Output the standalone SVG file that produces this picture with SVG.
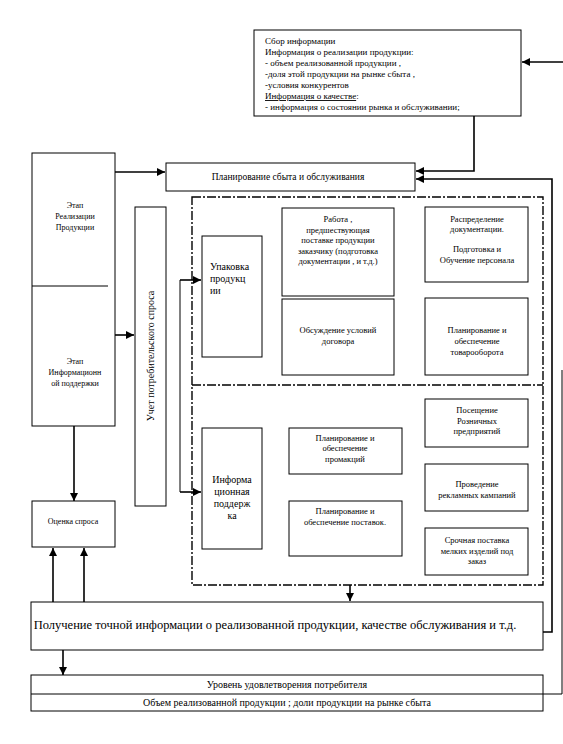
<svg xmlns="http://www.w3.org/2000/svg" width="563" height="744" viewBox="0 0 563 744">
<style>
.b{fill:#fff;stroke:#000;stroke-width:1}
.t{font-family:"Liberation Serif","Times New Roman",serif;font-size:8.5px;fill:#000}
.c{text-anchor:middle}
.s{font-size:8px}
.m{font-size:10px}
.p{font-size:9.5px}
.k{font-size:9px}
.l{font-size:12.5px}
.ln{fill:none;stroke:#000;stroke-width:1}
.ar{fill:none;stroke:#000;stroke-width:1.6;marker-end:url(#ah)}
.dd{fill:none;stroke:#000;stroke-width:1.4;stroke-dasharray:9,2,2,2}
</style>
<defs>
<marker id="ah" markerUnits="userSpaceOnUse" markerWidth="9" markerHeight="8" refX="8" refY="4" orient="auto">
<path d="M0,0 L8,4 L0,8 z" fill="#000"/>
</marker>
</defs>
<rect width="563" height="744" fill="#fff"/>

<g id="connectors">
<path class="ar" d="M563,62 H522"/>
<path class="ar" d="M474,116 V171 H416"/>
<path class="ar" d="M543,632 H552 V179 H416"/>
<path class="ln" d="M543,694 H562 V370"/>
<path class="ar" d="M115,172 H165"/>
<path class="ar" d="M115,335 H134"/>
<path class="ar" d="M74,426 V501"/>
<path class="ar" d="M53,602 V548"/>
<path class="ar" d="M84,602 V548"/>
<path class="ln" d="M180,280 V492"/>
<path class="ar" d="M180,280 H201"/>
<path class="ar" d="M180,492 H201"/>
<path class="ar" d="M350,585 V601"/>
<path class="ar" d="M63,650 V675"/>
</g>

<g id="container">
<rect class="dd" x="192" y="197" width="351" height="388"/>
<path class="dd" d="M192,385 H543"/>
</g>

<g id="sbor">
<rect class="b" x="254" y="30" width="267" height="86"/>
<text class="t k" x="265" y="44">Сбор информации</text>
<text class="t k" x="265" y="55">Информация о реализации продукции:</text>
<text class="t k" x="265" y="66">-  объем реализованной продукции ,</text>
<text class="t k" x="265" y="77">-доля этой продукции на рынке сбыта ,</text>
<text class="t k" x="265" y="88">-условия конкурентов</text>
<text class="t k" x="265" y="99"><tspan text-decoration="underline">Информация о качестве</tspan>:</text>
<text class="t k" x="265" y="110">- информация о состоянии рынка и обслуживании;</text>
</g>

<g id="planning">
<rect class="b" x="166" y="163" width="249" height="28"/>
<text class="t c p" x="288" y="180">Планирование сбыта и обслуживания</text>
</g>

<g id="stages">
<rect class="b" x="32" y="153" width="83" height="273"/>
<path class="ln" d="M32,286 H108"/>
<text class="t c s" x="75" y="208">Этап</text>
<text class="t c s" x="75" y="219">Реализации</text>
<text class="t c s" x="75" y="230">Продукции</text>
<text class="t c s" x="75" y="364">Этап</text>
<text class="t c s" x="75" y="375">Информационн</text>
<text class="t c s" x="75" y="386">ой поддержки</text>
</g>

<g id="ocenka">
<rect class="b" x="32" y="501" width="83" height="46"/>
<text class="t c s" x="73" y="524">Оценка спроса</text>
</g>

<g id="uchet">
<rect class="b" x="135" y="207" width="31" height="299"/>
<text class="t c m" transform="translate(154,356) rotate(-90)">Учет  потребительского спроса</text>
</g>

<g id="upakovka">
<rect class="b" x="202" y="236" width="60" height="121"/>
<text class="t m" x="210" y="270">Упаковка</text>
<text class="t m" x="210" y="282">продукц</text>
<text class="t m" x="210" y="294">ии</text>
</g>

<g id="rabota">
<rect class="b" x="282" y="208" width="112" height="88"/>
<text class="t c" x="338" y="222">Работа ,</text>
<text class="t c" x="338" y="232.5">предшествующая</text>
<text class="t c" x="338" y="243">поставке продукции</text>
<text class="t c" x="338" y="253.5">заказчику (подготовка</text>
<text class="t c" x="338" y="264">документации , и т.д.)</text>
</g>

<g id="obsuzhdenie">
<rect class="b" x="282" y="299" width="112" height="76"/>
<text class="t c" x="338" y="333">Обсуждение условий</text>
<text class="t c" x="338" y="344">договора</text>
</g>

<g id="raspredelenie">
<rect class="b" x="425" y="207" width="103" height="75"/>
<text class="t c" x="477" y="222">Распределение</text>
<text class="t c" x="477" y="232">документации.</text>
<text class="t c" x="477" y="252">Подготовка и</text>
<text class="t c" x="477" y="263">Обучение персонала</text>
</g>

<g id="tovarooborot">
<rect class="b" x="425" y="298" width="103" height="77"/>
<text class="t c" x="477" y="333">Планирование и</text>
<text class="t c" x="477" y="344">обеспечение</text>
<text class="t c" x="477" y="355">товарооборота</text>
</g>

<g id="info">
<rect class="b" x="202" y="428" width="60" height="121"/>
<text class="t c m" x="232" y="483">Информа</text>
<text class="t c m" x="232" y="495">ционная</text>
<text class="t c m" x="232" y="507">поддерж</text>
<text class="t c m" x="232" y="519">ка</text>
</g>

<g id="promo">
<rect class="b" x="289" y="428" width="113" height="46"/>
<text class="t c" x="345" y="441">Планирование и</text>
<text class="t c" x="345" y="451">обеспечение</text>
<text class="t c" x="345" y="462">промакций</text>
</g>

<g id="postavki">
<rect class="b" x="289" y="501" width="113" height="55"/>
<text class="t c" x="345" y="514">Планирование и</text>
<text class="t c" x="345" y="525">обеспечение поставок.</text>
</g>

<g id="poseshchenie">
<rect class="b" x="425" y="399" width="103" height="48"/>
<text class="t c" x="477" y="413">Посещение</text>
<text class="t c" x="477" y="423.5">Розничных</text>
<text class="t c" x="477" y="434">предприятий</text>
</g>

<g id="reklama">
<rect class="b" x="425" y="464" width="103" height="47"/>
<text class="t c" x="477" y="487">Проведение</text>
<text class="t c" x="477" y="498">рекламных кампаний</text>
</g>

<g id="srochnaya">
<rect class="b" x="425" y="528" width="103" height="47"/>
<text class="t c" x="477" y="543">Срочная поставка</text>
<text class="t c" x="477" y="553.5">мелких изделий под</text>
<text class="t c" x="477" y="564">заказ</text>
</g>

<g id="poluchenie">
<rect class="b" x="31" y="602" width="512" height="48"/>
<text class="t c l" x="275" y="629">Получение точной информации о реализованной продукции, качестве обслуживания  и т.д.</text>
</g>

<g id="uroven">
<rect class="b" x="31" y="675" width="512" height="36"/>
<path class="ln" d="M31,694 H543"/>
<text class="t c m" x="287" y="688">Уровень удовлетворения потребителя</text>
<text class="t c m" x="287" y="706">Объем реализованной продукции ; доли продукции на рынке сбыта</text>
</g>
</svg>
